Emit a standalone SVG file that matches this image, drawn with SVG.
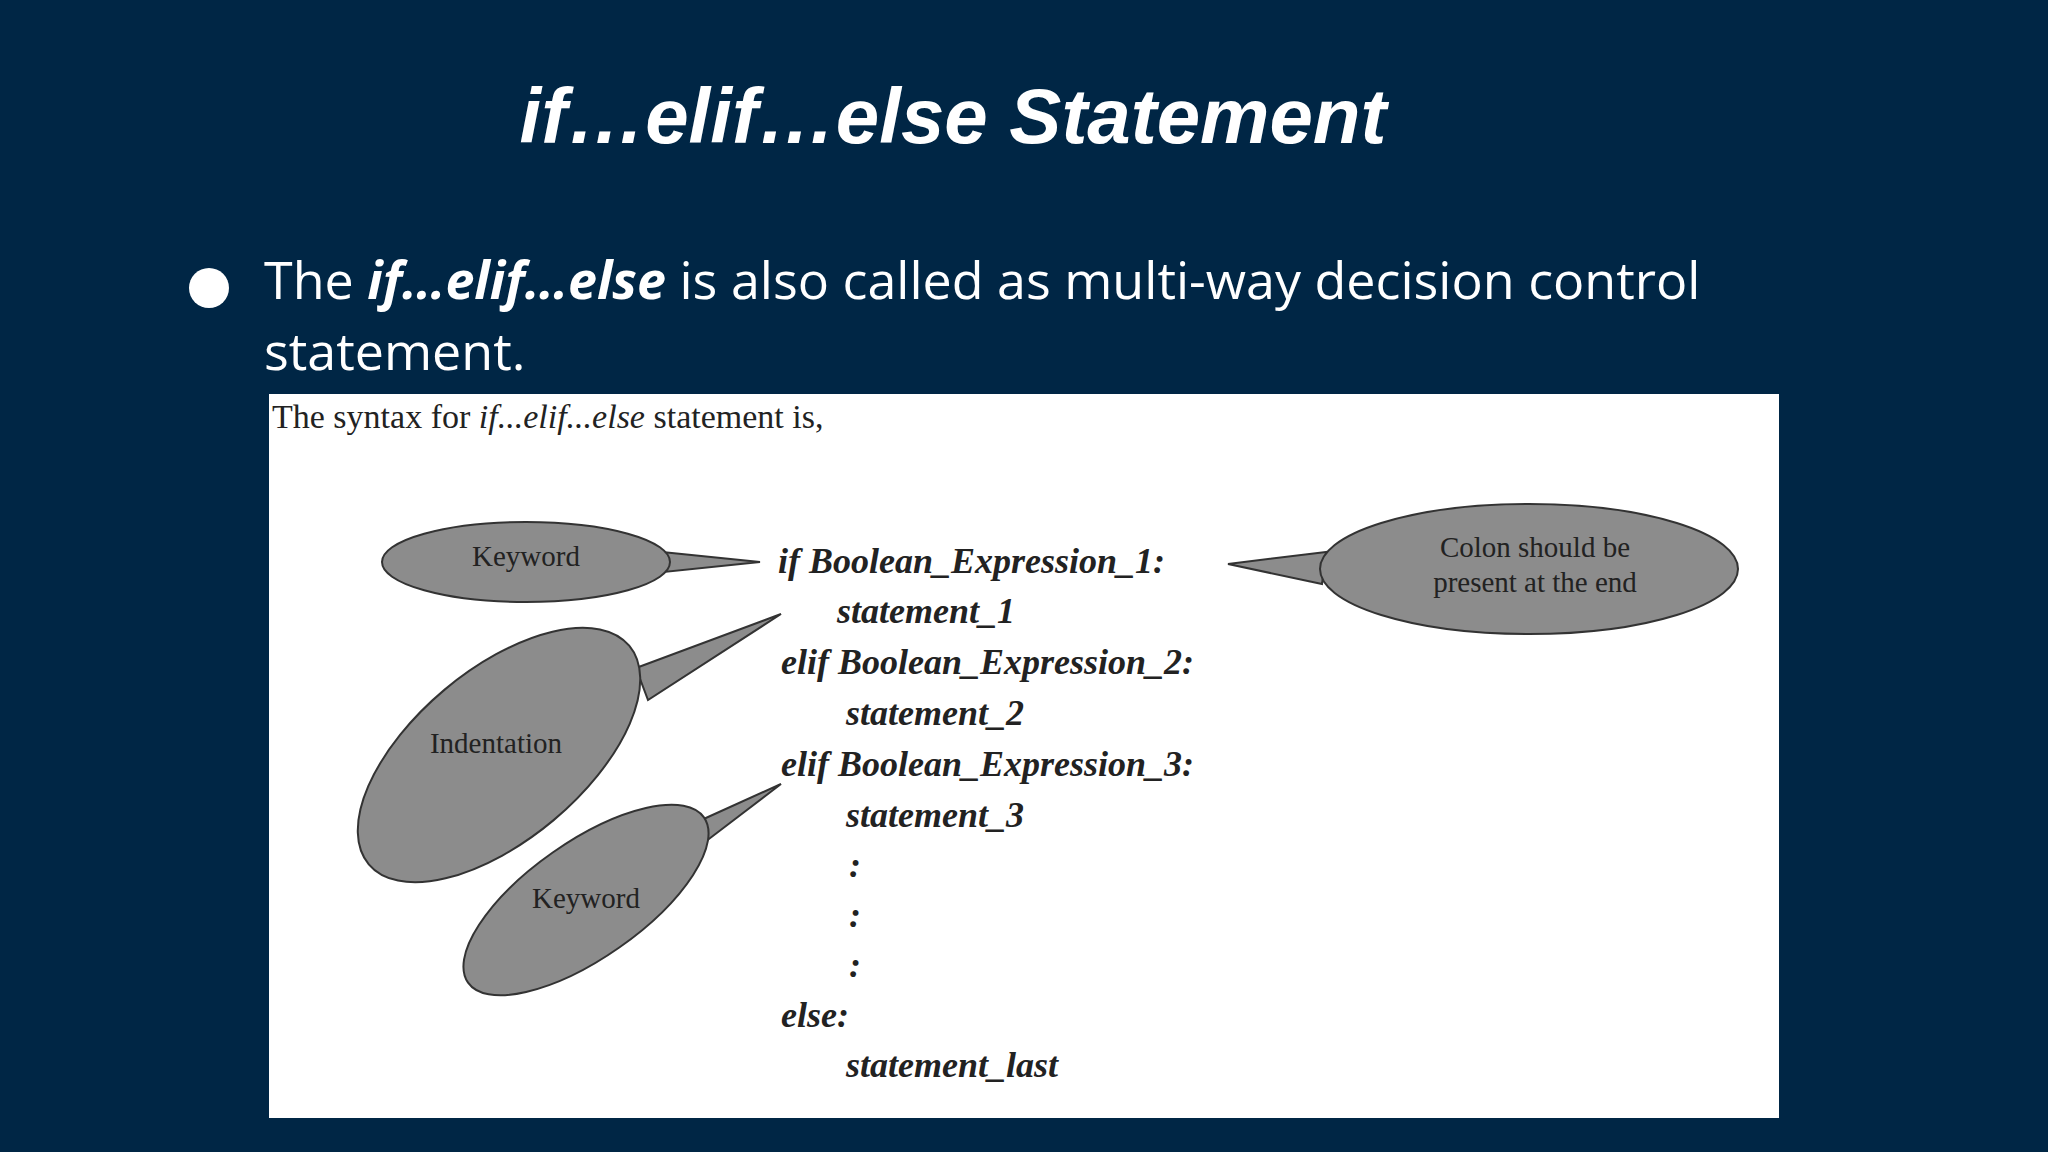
<svg xmlns="http://www.w3.org/2000/svg" width="2048" height="1152" viewBox="0 0 2048 1152">
<style>
.code{font-family:"Liberation Serif",serif;font-weight:bold;font-style:italic;font-size:36px;fill:#222}
.bub{fill:#8c8c8c;stroke:#333;stroke-width:2}
.lbl{font-family:"Liberation Serif",serif;font-size:29px;fill:#222;text-anchor:middle}
</style>
<rect width="2048" height="1152" fill="#002645"/>
<text x="953" y="143" text-anchor="middle" font-family="Liberation Sans,sans-serif" font-weight="bold" font-style="italic" font-size="78" fill="#fff">if…elif…else  Statement</text>
<g id="bullet">
<circle cx="209" cy="288" r="20" fill="#fff"/>
<text x="264" y="299" font-family="Open Sans,sans-serif" font-size="52" fill="#fff">The <tspan font-weight="bold" font-style="italic">if…elif…else</tspan> is also called  as multi-way decision control</text>
<text x="264" y="370" font-family="Open Sans,sans-serif" font-size="52" fill="#fff">statement.</text>
</g>
<rect x="269" y="394" width="1510" height="724" fill="#fff"/>
<text x="272" y="428" font-family="Liberation Serif,serif" font-size="34" fill="#222">The syntax for <tspan font-style="italic">if...elif...else</tspan> statement is,</text>
<g id="code">
<text class="code" x="778" y="573">if Boolean_Expression_1:</text>
<text class="code" x="837" y="623">statement_1</text>
<text class="code" x="781" y="674">elif Boolean_Expression_2:</text>
<text class="code" x="846" y="725">statement_2</text>
<text class="code" x="781" y="776">elif Boolean_Expression_3:</text>
<text class="code" x="846" y="827">statement_3</text>
<text class="code" x="849" y="877">:</text>
<text class="code" x="849" y="927">:</text>
<text class="code" x="849" y="977">:</text>
<text class="code" x="781" y="1027">else:</text>
<text class="code" x="846" y="1077">statement_last</text>
</g>
<g id="connectors">
<polygon class="bub" points="662,552 760,562 664,572"/>
<polygon class="bub" points="1326,552 1228,564 1322,584"/>
<polygon class="bub" points="636,668 781,614 648,700"/>
<polygon class="bub" points="697,822 781,784 705,842"/>
</g>
<g id="keyword1">
<ellipse class="bub" cx="526" cy="562" rx="144" ry="40"/>
<text class="lbl" x="526" y="566">Keyword</text>
</g>
<g id="colon">
<ellipse class="bub" cx="1529" cy="569" rx="209" ry="65"/>
<text class="lbl" x="1535" y="557">Colon should be</text>
<text class="lbl" x="1535" y="592">present at the end</text>
</g>
<g id="indentation">
<ellipse class="bub" cx="499" cy="755" rx="170" ry="85" transform="rotate(-40 499 755)"/>
<text class="lbl" x="496" y="753">Indentation</text>
</g>
<g id="keyword2">
<ellipse class="bub" cx="586" cy="900" rx="144" ry="58" transform="rotate(-35 586 900)"/>
<text class="lbl" x="586" y="908">Keyword</text>
</g>
</svg>
